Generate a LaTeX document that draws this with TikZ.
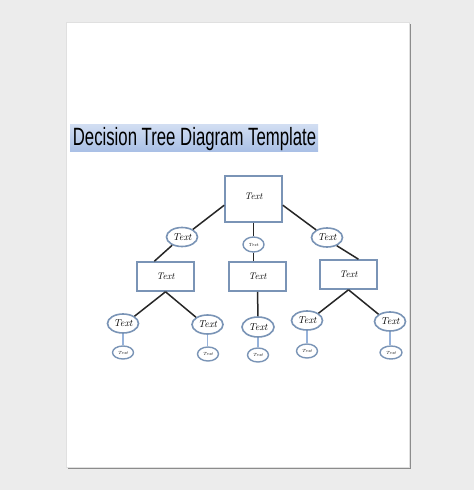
\documentclass[tikz,border=0pt]{standalone}
\usepackage{fontspec}
\usepackage{graphicx}
\newfontfamily\titlefont{Liberation Sans}
\usetikzlibrary{shapes.geometric,positioning}
\definecolor{pagegray}{RGB}{236,236,236}
\definecolor{boxblue}{RGB}{122,148,182}
\definecolor{stemblue}{RGB}{150,178,218}
\definecolor{marktop}{RGB}{210,222,242}
\definecolor{markbot}{RGB}{170,192,230}

\begin{document}
\begin{tikzpicture}[x=1pt, y=-1pt,
		box/.style = {draw=boxblue, line width=1.6pt, fill=white, inner sep=0pt,
			minimum width=57pt, minimum height=29pt, font=\itshape\fontsize{9.5}{9.5}\selectfont},
		oval/.style = {ellipse, draw=boxblue, line width=1.6pt, fill=white, inner sep=0pt,
			minimum width=31pt, minimum height=19pt, font=\itshape\fontsize{10}{10}\selectfont},
		dot/.style = {ellipse, draw=boxblue, line width=1.4pt, fill=white, inner sep=0pt,
			minimum width=21pt, minimum height=14pt, font=\itshape\fontsize{4.5}{4.5}\selectfont},
		link/.style = {line width=1.5pt, black!85},
		stem/.style = {line width=1.4pt, stemblue}]
		\useasboundingbox (0,0) rectangle (474,490);
		% page
		\fill[pagegray] (0,0) rectangle (474,490);
		\fill[black!45] (67.5,23.5) rectangle (410.5,468.5);
		\filldraw[fill=white, draw=black!12] (66,22) rectangle (409,467);
		% title
		\shade[top color=marktop, bottom color=markbot] (70,124) rectangle (318,151);
		\node[anchor=base, inner sep=0pt] (title) at (194.5,145)
			{\scalebox{0.67}[1]{\titlefont\fontsize{25}{25}\selectfont Decision Tree Diagram Template}};
		% tree
		\node[box, minimum width=57pt, minimum height=46pt] (root) at (253.5,199) {\raisebox{5pt}{Text}};
		\node[oval] (ol) at (182,237) {Text};
		\node[dot, minimum width=21pt, minimum height=15pt] (om) at (253.5,244.5) {Text};
		\node[oval] (or) at (327,237.5) {Text};
		\node[box] (bl) at (165.5,276.5) {Text};
		\node[box] (bm) at (257.5,276.5) {Text};
		\node[box] (br) at (348.5,274.5) {Text};
		\node[oval] (la) at (123,323.5) {Text};
		\node[oval] (lb) at (207.5,324.5) {Text};
		\node[oval, minimum width=32pt, minimum height=20pt] (ma) at (258,327) {Text};
		\node[oval] (ra) at (307,320.5) {Text};
		\node[oval] (rb) at (390,321.5) {Text};
		\node[dot, minimum height=13pt] (la1) at (123,352.5) {Text};
		\node[dot] (lb1) at (208,354) {Text};
		\node[dot] (ma1) at (258,355) {Text};
		\node[dot] (ra1) at (307,351) {Text};
		\node[dot, minimum width=22pt, minimum height=13pt] (rb1) at (391,352.5) {Text};
		% connectors
		\draw[link] (root.192) -- (ol.35);
		\draw[link] (ol.220) -- (bl.126);
		\draw[link] (root.348) -- (or.145);
		\draw[link] (or.320) -- (br.57);
		\draw[link] (root.south) -- (om.north);
		\draw[link] (om.south) -- (om.south |- bm.north);
		\draw[link] (bl.south) -- (la.north east);
		\draw[link] (bl.south) -- (lb.north west);
		\draw[link] (bm.south) -- (ma.north);
		\draw[link] (br.south) -- (ra.north east);
		\draw[link] (br.south) -- (rb.north west);
		\foreach \up/\down in {la/la1, lb/lb1, ma/ma1, ra/ra1, rb/rb1}
			\draw[stem] (\up.south) -- (\up.south |- \down.north);
	\end{tikzpicture}
\end{document}
